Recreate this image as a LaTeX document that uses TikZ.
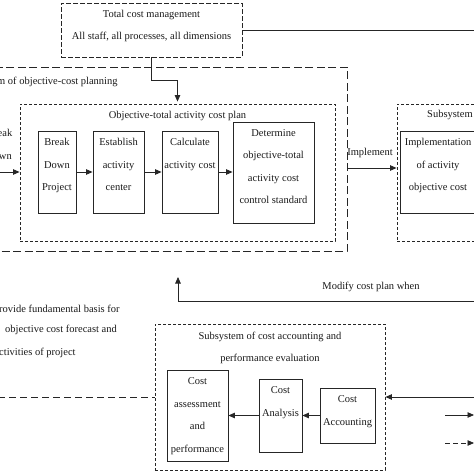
\documentclass[tikz,border=0pt]{standalone}
\usepackage{fontspec}
\setmainfont{Liberation Serif}
\usetikzlibrary{arrows.meta}
\begin{document}
\begin{tikzpicture}[x=1pt,y=-1pt,
  ln/.style={draw=black!85, line width=0.85pt},
  arr/.style={ln, -{Triangle[length=6.5pt,width=5.5pt]}},
  solidbox/.style={ln, inner sep=0pt},
  topdash/.style={ln, dash pattern=on 5pt off 2pt, inner sep=0pt},
  outerdash/.style={ln, line width=1pt, dash pattern=on 8pt off 3.5pt, inner sep=0pt},
  smalldash/.style={ln, dash pattern=on 3pt off 2pt, inner sep=0pt},
  longdash/.style={ln, line width=1pt, dash pattern=on 7pt off 4pt},
  txt/.style={font=\fontsize{10.5}{22.5}\selectfont, align=center, inner sep=0pt, text=black!90},
]
\useasboundingbox (0,0) rectangle (474,474);
\clip (0,0) rectangle (474,474);

% top box
\node[topdash, minimum width=181pt, minimum height=54pt] (top) at (151.5,30) {};
\node[txt, anchor=north] (toptxt) at ([yshift=-7pt]top.north) {Total cost management\\All staff, all processes, all dimensions};
\coordinate (topR) at (476,30);
\draw[ln] (top.east) -- (topR);

% outer planning subsystem
\node[outerdash, minimum width=357pt, minimum height=184pt] (outer) at (168.5,159) {};
\node[txt, anchor=west] (outertxt) at (-3,82) {m of objective-cost planning};

% inner plan box
\node[smalldash, minimum width=315pt, minimum height=137pt] (inner) at (177.5,172.5) {};
\node[txt, anchor=north] (innertxt) at ([yshift=-7pt]inner.north) {Objective-total activity cost plan};

\coordinate (bend) at (152,80);
\draw[arr, shorten >=2pt] (top.south) -- (top.south |- bend) -| (inner.north);

% process boxes
\node[solidbox, minimum width=38pt, minimum height=82pt] (bd) at (57,172) {};
\node[txt, anchor=north] at ([yshift=-7.5pt]bd.north) {Break\\Down\\Project};
\node[solidbox, minimum width=51pt, minimum height=82pt] (ea) at (118.5,172) {};
\node[txt, anchor=north] at ([yshift=-7.5pt]ea.north) {Establish\\activity\\center};
\node[solidbox, minimum width=56pt, minimum height=82pt] (ca) at (190,172) {};
\node[txt, anchor=north] at ([yshift=-7.5pt]ca.north) {Calculate\\activity cost};
\node[solidbox, minimum width=81pt, minimum height=101pt] (dt) at (273.5,172.5) {};
\node[txt, anchor=north] at ([yshift=-7.5pt]dt.north) {Determine\\objective-total\\activity cost\\control standard};

\draw[arr] (bd.east) -- (ea.west);
\draw[arr] (ea.east) -- (ca.west);
\draw[arr] (ca.east) -- (ca.east -| dt.west);

% left incoming arrow
\node[txt, anchor=east] (eak) at (12.5,133) {eak};
\node[txt, anchor=east] (wn) at (12,157) {wn};
\coordinate (lin) at (-2,172);
\draw[arr] (lin) -- (inner.west |- lin);

% right subsystem
\node[smalldash, minimum width=100pt, minimum height=137pt] (sub) at (447,172.5) {};
\node[txt, anchor=west] (subtxt) at (427,115) {Subsystem};
\node[solidbox, minimum width=76pt, minimum height=82pt] (impl) at (438,172) {};
\node[txt, anchor=north] at ([yshift=-7.5pt]impl.north) {Implementation\\of activity\\objective cost};

\node[txt] (implement) at (370,153) {Implement};
\coordinate (impS) at ([yshift=-9pt]outer.east);
\draw[arr] (impS) -- (impS -| sub.west);

% modify feedback
\node[txt] (modify) at (371,287) {Modify cost plan when};
\coordinate (mR) at (476,301);
\coordinate (mT) at (178,277);
\draw[arr] (mR) -| (mT);

% left text
\node[txt, anchor=west] (p1) at (-1,309) {rovide fundamental basis for};
\node[txt, anchor=west] (p2) at (5,330) {objective cost forecast and};
\node[txt, anchor=west] (p3) at (-1,353) {ctivities of project};

% bottom subsystem
\node[smalldash, minimum width=230pt, minimum height=146pt] (bsub) at (270,397) {};
\node[txt, anchor=north] (bsubtxt) at ([yshift=-8pt]bsub.north) {Subsystem of cost accounting and\\performance evaluation};

\node[solidbox, minimum width=61pt, minimum height=91pt] (cap) at (197.5,415.5) {};
\node[txt, anchor=north] at ([yshift=-8pt]cap.north) {Cost\\assessment\\and\\performance};
\node[solidbox, minimum width=43pt, minimum height=73pt] (can) at (280.5,415.5) {};
\node[txt, anchor=north] at ([yshift=-8pt]can.north) {Cost\\Analysis};
\node[solidbox, minimum width=55pt, minimum height=55pt] (cac) at (347.5,415.5) {};
\node[txt, anchor=north] at ([yshift=-8pt]cac.north) {Cost\\Accounting};

\draw[arr] (cac.west) -- (can.east);
\draw[arr] (can.west) -- (cap.east);

\coordinate (bR) at (476,397);
\draw[arr] (bR) -- (bsub.east);
\coordinate (bL) at (-2,397);
\draw[longdash] (bL) -- (bsub.west);

% legend arrows
\coordinate (l1a) at (445,415);
\coordinate (l1b) at (474,415);
\draw[arr] (l1a) -- (l1b);
\coordinate (l2a) at (445,443);
\coordinate (l2b) at (474,443);
\draw[arr, dash pattern=on 5pt off 3pt] (l2a) -- (l2b);
\end{tikzpicture}
\end{document}
